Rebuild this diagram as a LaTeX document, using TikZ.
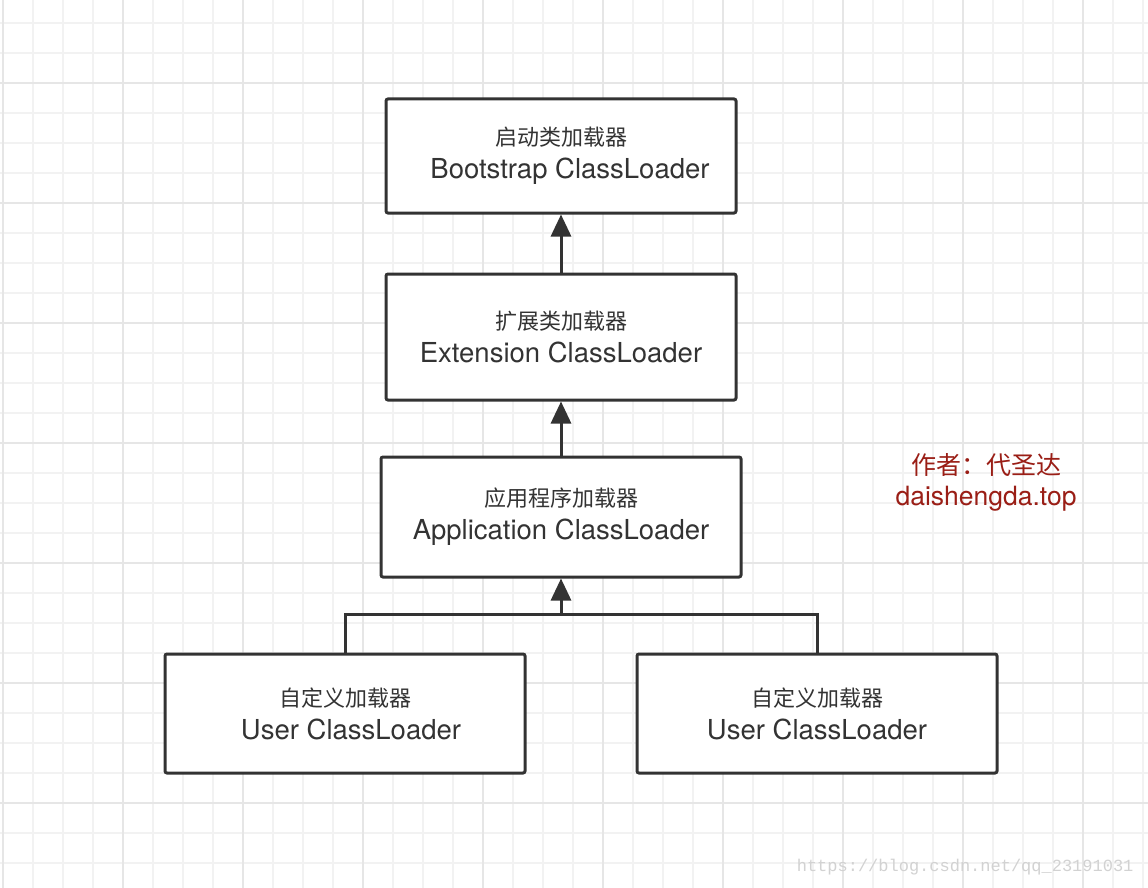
\documentclass[tikz,border=0pt]{standalone}
\usepackage{fontspec}
\setmainfont{Noto Sans CJK SC}
\newfontfamily\latinfont{TeX Gyre Heros}
\newfontfamily\markfont{Liberation Mono}
\usetikzlibrary{arrows.meta}

\definecolor{gridminor}{HTML}{F2F2F2}
\definecolor{gridmajor}{HTML}{E6E6E6}
\definecolor{boxline}{HTML}{333333}
\definecolor{authorred}{HTML}{9A1E16}

% two-line label: Chinese name, then English name
\newcommand{\loadername}[2]{#1\\{\latinfont\fontsize{27.5}{33}\selectfont #2}}

\tikzset{
    loaderbox/.style={draw=boxline, line width=3pt, rounded corners=2pt, fill=white,
        align=center, text=boxline, font=\fontsize{22}{33}\selectfont,
        minimum width=#1, minimum height=120pt, inner sep=0pt},
    upline/.style={draw=boxline, line width=3pt,
        -{Triangle[width=20pt,length=22pt]}},
    joinline/.style={draw=boxline, line width=3pt}
}

\begin{document}
\begin{tikzpicture}[x=1pt,y=-1pt]
    \useasboundingbox (0,0) rectangle (1148,888);
    \fill [white] (0,0) rectangle (1148,888);
    % background grid
    \foreach \x in {3,33,...,1148} {
        \draw [line width=2pt, gridminor] (\x,0) -- (\x,888);
    }
    \foreach \y in {23,53,...,888} {
        \draw [line width=2pt, gridminor] (0,\y) -- (1148,\y);
    }
    \foreach \x in {3,123,...,1148} {
        \draw [line width=2.5pt, gridmajor] (\x,0) -- (\x,888);
    }
    \foreach \y in {83,203,...,888} {
        \draw [line width=2.5pt, gridmajor] (0,\y) -- (1148,\y);
    }
    % loaders
    \node[loaderbox=350pt, minimum height=114pt] (bootstrap) at (561,156) {\loadername{启动类加载器}{\hspace*{18pt}Bootstrap ClassLoader}};
    \node[loaderbox=350pt, minimum height=126pt] (extension) at (561,337) {\loadername{扩展类加载器}{Extension ClassLoader}};
    \node[loaderbox=360pt] (application) at (561,517) {\loadername{应用程序加载器}{Application ClassLoader}};
    \node[loaderbox=360pt, minimum height=119pt] (userA) at (345,713.5) {\loadername{自定义加载器}{\hspace*{12pt}User ClassLoader}};
    \node[loaderbox=360pt, minimum height=119pt] (userB) at (817,713.5) {\loadername{自定义加载器}{User ClassLoader}};
    \coordinate (join) at (561,614);
    % parent links
    \draw [upline] (extension) -- (bootstrap);
    \draw [upline] (application) -- (extension);
    \draw [joinline] (userA.north) |- (join) -| (userB.north);
    \draw [upline] (join) -- (application);
    % author note
    \node[text=authorred, align=center, font=\fontsize{25}{31}\selectfont] (author) at (986,482) {作者：代圣达\\{\latinfont\fontsize{26.5}{31}\selectfont daishengda.top}};
    \node[text=gridmajor!80!gray, font=\markfont\fontsize{17}{17}\selectfont, anchor=east] (mark) at (1137,867) {https://blog.csdn.net/qq\_23191031};
\end{tikzpicture}
\end{document}
